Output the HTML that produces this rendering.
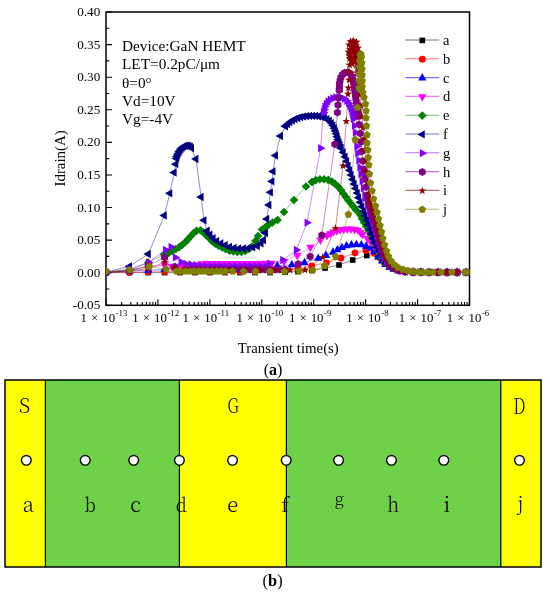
<!DOCTYPE html><html><head><meta charset="utf-8"><style>html,body{margin:0;padding:0;background:#fff;}svg{display:block;}text{font-family:"Liberation Serif","Noto Serif CJK SC",serif;}</style></head><body>
<svg width="550" height="595" viewBox="0 0 550 595">
<defs>
<g id="ma" fill="#000000" stroke="none"><rect x="-2.8" y="-2.8" width="5.6" height="5.6"/></g>
<g id="mb" fill="#ff0000" stroke="none"><circle r="3.4"/></g>
<g id="mc" fill="#0000ff" stroke="none"><polygon points="0.00,-4.90 4.15,2.45 -4.15,2.45"/></g>
<g id="md" fill="#ff00ff" stroke="none"><polygon points="0.00,4.90 4.15,-2.45 -4.15,-2.45"/></g>
<g id="me" fill="#008000" stroke="none"><polygon points="0.00,-4.30 4.30,0.00 0.00,4.30 -4.30,0.00"/></g>
<g id="mf" fill="#000080" stroke="none"><polygon points="-4.90,0.00 2.45,-4.15 2.45,4.15"/></g>
<g id="mg" fill="#8000ff" stroke="none"><polygon points="4.90,0.00 -2.45,-4.15 -2.45,4.15"/></g>
<g id="mh" fill="#800080" stroke="none"><polygon points="0.00,-4.00 3.46,-2.00 3.46,2.00 0.00,4.00 -3.46,2.00 -3.46,-2.00"/></g>
<g id="mi" fill="#900000" stroke="none"><polygon points="0.00,-4.20 1.00,-1.38 3.99,-1.30 1.62,0.53 2.47,3.40 0.00,1.70 -2.47,3.40 -1.62,0.53 -3.99,-1.30 -1.00,-1.38"/></g>
<g id="mj" fill="#808000" stroke="none"><polygon points="0.00,-4.00 3.80,-1.24 2.35,3.24 -2.35,3.24 -3.80,-1.24"/></g>
</defs>
<rect width="550" height="595" fill="#fff"/>
<path d="M106.00,12.00h6M106.00,28.29h3.3M106.00,44.59h6M106.00,60.88h3.3M106.00,77.18h6M106.00,93.47h3.3M106.00,109.77h6M106.00,126.06h3.3M106.00,142.36h6M106.00,158.65h3.3M106.00,174.94h6M106.00,191.24h3.3M106.00,207.53h6M106.00,223.83h3.3M106.00,240.12h6M106.00,256.42h3.3M106.00,272.71h6M106.00,289.01h3.3M106.00,305.30h6M106.00,305.30v-6M121.63,305.30v-3.3M130.78,305.30v-3.3M137.26,305.30v-3.3M142.30,305.30v-3.3M146.41,305.30v-3.3M149.88,305.30v-3.3M152.90,305.30v-3.3M155.55,305.30v-3.3M157.93,305.30v-6M173.56,305.30v-3.3M182.70,305.30v-3.3M189.19,305.30v-3.3M194.23,305.30v-3.3M198.34,305.30v-3.3M201.81,305.30v-3.3M204.82,305.30v-3.3M207.48,305.30v-3.3M209.86,305.30v-6M225.49,305.30v-3.3M234.63,305.30v-3.3M241.12,305.30v-3.3M246.15,305.30v-3.3M250.27,305.30v-3.3M253.74,305.30v-3.3M256.75,305.30v-3.3M259.41,305.30v-3.3M261.79,305.30v-6M277.42,305.30v-3.3M286.56,305.30v-3.3M293.05,305.30v-3.3M298.08,305.30v-3.3M302.19,305.30v-3.3M305.67,305.30v-3.3M308.68,305.30v-3.3M311.34,305.30v-3.3M313.71,305.30v-6M329.35,305.30v-3.3M338.49,305.30v-3.3M344.98,305.30v-3.3M350.01,305.30v-3.3M354.12,305.30v-3.3M357.60,305.30v-3.3M360.61,305.30v-3.3M363.27,305.30v-3.3M365.64,305.30v-6M381.27,305.30v-3.3M390.42,305.30v-3.3M396.91,305.30v-3.3M401.94,305.30v-3.3M406.05,305.30v-3.3M409.53,305.30v-3.3M412.54,305.30v-3.3M415.20,305.30v-3.3M417.57,305.30v-6M433.20,305.30v-3.3M442.35,305.30v-3.3M448.84,305.30v-3.3M453.87,305.30v-3.3M457.98,305.30v-3.3M461.46,305.30v-3.3M464.47,305.30v-3.3M467.12,305.30v-3.3M469.50,305.30v-6" stroke="#000" stroke-width="1.1" fill="none"/>
<rect x="106.0" y="12.0" width="363.5" height="293.3" fill="none" stroke="#000" stroke-width="1.5"/>
<text x="100.3" y="16.00" font-size="13.2" text-anchor="end">0.40</text>
<text x="100.3" y="48.59" font-size="13.2" text-anchor="end">0.35</text>
<text x="100.3" y="81.18" font-size="13.2" text-anchor="end">0.30</text>
<text x="100.3" y="113.77" font-size="13.2" text-anchor="end">0.25</text>
<text x="100.3" y="146.36" font-size="13.2" text-anchor="end">0.20</text>
<text x="100.3" y="178.94" font-size="13.2" text-anchor="end">0.15</text>
<text x="100.3" y="211.53" font-size="13.2" text-anchor="end">0.10</text>
<text x="100.3" y="244.12" font-size="13.2" text-anchor="end">0.05</text>
<text x="100.3" y="276.71" font-size="13.2" text-anchor="end">0.00</text>
<text x="100.3" y="309.30" font-size="13.2" text-anchor="end">-0.05</text>
<text x="80.60" y="321.9" font-size="12.8">1</text>
<text x="94.65" y="321.9" font-size="12.8" text-anchor="middle">×</text>
<text x="102.30" y="321.9" font-size="12.8">10</text>
<text x="115.70" y="315.9" font-size="8.8">-13</text>
<text x="132.30" y="321.9" font-size="12.8">1</text>
<text x="146.35" y="321.9" font-size="12.8" text-anchor="middle">×</text>
<text x="154.00" y="321.9" font-size="12.8">10</text>
<text x="167.40" y="315.9" font-size="8.8">-12</text>
<text x="182.60" y="321.9" font-size="12.8">1</text>
<text x="196.65" y="321.9" font-size="12.8" text-anchor="middle">×</text>
<text x="204.30" y="321.9" font-size="12.8">10</text>
<text x="217.70" y="315.9" font-size="8.8">-11</text>
<text x="236.40" y="321.9" font-size="12.8">1</text>
<text x="250.45" y="321.9" font-size="12.8" text-anchor="middle">×</text>
<text x="258.10" y="321.9" font-size="12.8">10</text>
<text x="271.50" y="315.9" font-size="8.8">-10</text>
<text x="289.00" y="321.9" font-size="12.8">1</text>
<text x="303.05" y="321.9" font-size="12.8" text-anchor="middle">×</text>
<text x="310.70" y="321.9" font-size="12.8">10</text>
<text x="324.10" y="315.9" font-size="8.8">-9</text>
<text x="346.20" y="321.9" font-size="12.8">1</text>
<text x="360.25" y="321.9" font-size="12.8" text-anchor="middle">×</text>
<text x="367.90" y="321.9" font-size="12.8">10</text>
<text x="381.30" y="315.9" font-size="8.8">-8</text>
<text x="398.80" y="321.9" font-size="12.8">1</text>
<text x="412.85" y="321.9" font-size="12.8" text-anchor="middle">×</text>
<text x="420.50" y="321.9" font-size="12.8">10</text>
<text x="433.90" y="315.9" font-size="8.8">-7</text>
<text x="446.80" y="321.9" font-size="12.8">1</text>
<text x="460.85" y="321.9" font-size="12.8" text-anchor="middle">×</text>
<text x="468.50" y="321.9" font-size="12.8">10</text>
<text x="481.90" y="315.9" font-size="8.8">-6</text>
<clipPath id="pc"><rect x="106.0" y="12.0" width="363.5" height="293.3"/></clipPath>
<g clip-path="url(#pc)">
<polyline points="106.00,272.60 129.50,272.60 148.30,272.60 164.60,272.60 180.00,272.60 195.00,272.60 210.00,272.60 225.00,272.60 240.00,272.60 255.00,272.60 270.00,272.60 285.00,272.20 298.00,271.60 312.00,270.50 325.00,268.00 339.00,265.00 352.70,260.00 366.80,255.50 377.50,256.50 384.00,262.00 390.00,267.00 397.00,270.00 405.00,271.60 413.00,272.00 421.00,272.20 429.00,272.30 438.00,272.30 447.00,272.30 457.00,272.30 466.00,272.30" fill="none" stroke="#000000" stroke-width="1" stroke-opacity="0.45"/>
<polyline points="106.00,272.30 129.50,272.30 148.30,271.80 164.60,271.60 180.00,271.50 195.00,271.50 210.00,271.50 225.00,271.50 240.00,271.50 255.00,271.50 270.00,270.60 285.00,269.60 298.00,268.40 311.80,265.80 326.40,262.80 341.00,258.00 355.00,253.00 366.00,250.50 374.00,253.00 380.00,258.00 385.00,263.00 391.00,267.00 398.00,270.00 405.00,271.60 413.00,272.00 421.00,272.20 429.00,272.30 438.00,272.30 447.00,272.30 457.00,272.30 466.00,272.30" fill="none" stroke="#ff0000" stroke-width="1" stroke-opacity="0.45"/>
<polyline points="106.00,272.30 129.50,271.20 148.30,270.20 164.60,269.60 175.00,267.80 185.00,267.80 195.00,267.80 205.00,267.80 215.00,267.80 225.00,267.80 235.00,267.80 245.00,267.80 255.00,267.80 265.00,267.80 277.30,265.80 291.80,264.80 304.50,262.70 318.20,258.40 326.00,255.50 333.00,252.20 337.40,249.82 341.89,247.64 346.55,245.83 351.46,245.01 356.42,244.56 361.41,244.92 366.19,246.26 370.63,248.38 374.28,251.80 378.50,257.00 382.00,261.00 385.50,264.50 389.50,267.50 394.00,269.50 400.00,271.00 405.00,271.60 413.00,272.00 421.00,272.20 429.00,272.30 438.00,272.30 447.00,272.30 457.00,272.30 466.00,272.30" fill="none" stroke="#0000ff" stroke-width="1" stroke-opacity="0.45"/>
<polyline points="106.00,272.30 129.50,270.60 148.30,267.00 164.60,265.00 172.00,266.50 176.99,266.27 181.99,266.05 186.98,265.82 191.98,265.59 196.84,264.60 201.68,263.59 206.68,263.57 211.68,263.55 216.68,263.53 221.68,263.51 226.68,263.49 231.68,263.47 236.68,263.45 241.68,263.43 246.68,263.41 251.68,263.38 256.68,263.36 261.68,263.34 266.68,263.32 271.68,263.30 284.00,261.50 297.30,255.50 310.40,247.30 320.50,240.00 327.00,235.50 330.11,233.69 333.24,231.93 336.68,230.87 340.15,229.90 343.71,229.37 347.28,229.00 350.88,229.00 354.42,229.52 357.94,230.29 360.61,232.69 362.60,234.50 367.40,238.50 370.90,242.50 374.40,246.80 377.50,251.00 380.50,255.50 383.50,259.50 386.50,263.50 390.00,266.50 395.00,269.00 400.00,270.80 405.00,271.60 413.00,272.00 421.00,272.20 429.00,272.30 438.00,272.30 447.00,272.30 457.00,272.30 466.00,272.30" fill="none" stroke="#ff00ff" stroke-width="1" stroke-opacity="0.45"/>
<polyline points="106.00,272.30 129.50,270.20 148.30,262.50 164.00,254.50 168.70,253.00 172.13,250.94 175.70,249.15 179.15,247.14 182.35,244.74 185.37,242.13 188.10,239.22 190.70,236.18 193.36,233.20 196.54,230.83 200.44,230.20 203.61,232.61 206.44,235.44 209.27,238.27 212.10,241.08 215.19,243.63 218.56,245.78 222.13,247.57 225.74,249.28 229.51,250.63 233.40,251.55 237.37,252.00 241.36,251.91 245.22,250.89 248.71,248.96 251.91,246.56 255.50,241.00 258.00,236.00 262.00,229.50 265.50,227.00 268.50,225.00 272.50,222.50 277.50,220.00 284.00,212.00 294.00,200.00 306.00,186.50 312.00,182.00 312.00,182.00 315.76,180.12 319.87,179.32 324.07,179.31 328.22,179.89 332.00,181.67 335.38,184.15 338.48,186.98 341.13,190.21 343.45,193.71 345.90,197.12 348.44,200.47 351.12,203.70 353.72,207.00 356.00,210.00 360.00,214.50 361.83,218.61 364.02,222.54 366.24,226.45 368.35,230.43 370.45,234.41 372.56,238.38 374.66,242.36 376.53,246.45 378.36,250.56 380.31,254.62 382.32,258.64 384.98,262.23 388.20,265.34 391.89,267.92 396.07,269.56 398.00,270.30 405.00,271.60 413.00,272.00 421.00,272.20 429.00,272.30 438.00,272.30 447.00,272.30 457.00,272.30 466.00,272.30" fill="none" stroke="#008000" stroke-width="1" stroke-opacity="0.45"/>
<polyline points="106.00,272.30 129.50,266.30 148.30,254.00 164.30,215.50 169.80,193.30 174.20,172.50 175.80,164.20 176.50,158.50 176.99,156.77 177.49,155.04 178.29,153.43 179.11,151.82 180.03,150.28 181.10,148.84 182.31,147.51 183.77,146.47 185.40,145.77 187.17,145.53 188.91,145.83 190.43,146.76 191.54,148.18 196.00,159.00 201.10,197.00 204.00,220.30 207.00,231.00 207.00,231.00 209.94,234.67 213.12,238.12 216.75,241.05 220.84,243.34 225.21,245.08 229.57,246.83 234.16,247.83 238.82,248.38 243.51,248.50 248.20,248.18 252.83,247.43 257.36,246.21 261.07,243.40 263.50,240.00 265.50,233.00 266.80,219.00 268.90,205.00 270.40,192.30 271.90,181.30 273.00,171.40 275.50,155.50 280.50,136.00 285.40,126.20 285.40,126.20 287.62,124.18 289.83,122.15 292.38,120.57 294.95,119.03 297.77,118.00 300.62,117.09 303.57,116.56 306.54,116.18 309.53,115.94 312.53,115.90 315.53,115.95 318.51,116.25 321.45,116.81 324.34,117.61 326.96,119.03 329.39,120.75 331.34,123.03 332.93,125.55 334.34,128.20 335.34,131.03 336.29,133.87 337.19,136.73 338.07,139.60 339.02,142.45 340.03,145.27 341.00,148.00 341.00,148.00 343.20,152.27 345.13,156.65 346.59,161.22 348.09,165.78 349.61,170.33 351.13,174.88 352.65,179.44 354.16,183.99 355.76,188.52 357.30,193.06 358.63,197.67 360.16,202.22 361.88,206.70 363.51,211.22 365.12,215.74 366.73,220.26 368.35,224.78 369.96,229.30 371.58,233.82 373.19,238.34 374.85,242.84 376.70,247.27 379.37,251.24 381.67,255.43 383.70,259.78 386.69,263.52 390.29,266.67 394.49,268.83 398.00,270.00 405.00,271.60 413.00,272.00 421.00,272.20 429.00,272.30 438.00,272.30 447.00,272.30 457.00,272.30 466.00,272.30" fill="none" stroke="#000080" stroke-width="1" stroke-opacity="0.45"/>
<polyline points="106.00,272.30 129.50,269.20 148.30,262.50 165.50,250.00 171.00,246.80 175.30,257.40 181.00,262.00 186.00,263.80 190.96,264.46 195.91,265.16 200.84,266.00 205.82,266.20 210.82,266.20 215.82,266.20 220.82,266.20 225.82,266.20 230.82,266.20 235.82,266.20 240.82,266.20 245.82,266.20 250.82,266.20 255.82,266.20 260.82,266.20 265.82,266.20 269.50,263.60 282.70,260.00 296.40,250.00 307.00,222.70 320.60,148.20 323.40,112.40 323.40,112.40 324.19,109.50 324.97,106.61 326.29,103.92 328.00,101.50 330.25,99.55 332.91,98.20 335.79,97.37 338.75,97.12 341.68,97.73 344.43,98.85 346.72,100.78 348.57,103.14 349.91,105.82 350.98,108.62 351.87,111.48 352.58,114.40 353.21,117.33 353.50,118.70 353.50,118.70 354.45,125.64 355.32,132.58 356.13,139.53 356.89,146.49 357.67,153.45 358.77,160.36 359.85,167.28 360.91,174.20 362.06,181.10 363.32,187.99 364.80,194.83 365.50,198.00 367.60,205.00 368.92,209.41 370.23,213.82 371.46,218.25 372.69,222.68 373.92,227.11 375.16,231.54 376.48,235.95 377.81,240.35 379.18,244.75 380.55,249.14 382.10,253.47 383.92,257.68 386.17,261.67 389.43,264.93 393.25,267.45 397.43,269.31 401.00,270.50 405.00,271.60 413.00,272.00 421.00,272.20 429.00,272.30 438.00,272.30 447.00,272.30 457.00,272.30 466.00,272.30" fill="none" stroke="#8000ff" stroke-width="1" stroke-opacity="0.45"/>
<polyline points="106.00,272.30 129.50,270.60 148.30,265.50 164.60,257.40 174.50,266.80 185.00,269.60 190.00,269.60 195.00,269.60 200.00,269.60 205.00,269.60 210.00,269.60 215.00,269.60 220.00,269.60 225.00,269.60 230.00,269.60 235.00,269.60 240.00,269.60 245.00,269.60 250.00,269.60 255.00,269.60 260.00,269.60 265.00,269.60 270.00,269.60 275.00,269.60 280.00,269.60 285.00,269.60 298.20,264.00 310.20,256.40 321.80,235.20 334.80,144.20 337.40,112.40 338.00,105.00 338.00,97.70 339.30,90.10 339.30,90.10 339.39,86.90 339.48,83.70 340.11,80.58 340.88,77.47 342.35,74.64 344.68,72.66 347.70,72.28 350.33,73.83 351.99,76.47 353.00,79.51 353.57,82.66 354.12,85.81 354.57,88.98 355.02,92.14 355.41,95.32 355.81,98.50 356.31,101.65 356.90,104.80 357.49,107.95 357.96,111.11 358.42,114.28 358.60,116.00 359.20,124.50 360.20,133.50 361.00,142.00 361.60,151.50 362.80,161.00 364.00,169.50 365.20,178.00 366.20,187.00 367.30,195.50 368.50,202.00 369.71,206.85 371.05,211.67 372.46,216.47 373.95,221.24 375.44,226.01 376.93,230.78 378.28,235.60 379.63,240.41 381.12,245.18 382.69,249.93 384.37,254.64 386.41,259.20 388.98,263.47 392.53,266.90 396.94,269.18 399.00,270.00 405.00,271.60 413.00,272.00 421.00,272.20 429.00,272.30 438.00,272.30 447.00,272.30 457.00,272.30 466.00,272.30" fill="none" stroke="#800080" stroke-width="1" stroke-opacity="0.45"/>
<polyline points="106.00,272.30 129.50,271.00 148.30,268.50 164.70,262.50 175.00,268.00 185.00,269.50 200.00,270.00 215.00,270.00 230.00,270.00 245.00,270.00 260.00,270.00 275.00,270.00 290.00,270.00 305.00,270.00 322.70,257.30 335.50,228.30 343.00,165.80 346.30,121.30 348.00,94.00 348.50,88.00 349.00,80.00 349.00,72.00 349.50,65.00 349.50,58.50 350.00,54.00 351.00,50.00 351.50,46.00 352.50,42.00 353.50,41.00 354.80,42.50 356.00,46.00 356.50,50.00 357.00,54.00 357.00,58.00 357.20,63.00 357.50,68.00 357.50,73.00 349.00,45.00 350.00,49.50 355.00,53.50 348.50,52.00 358.00,48.00 354.00,57.00 351.50,60.50 353.00,47.00 350.50,41.50 356.50,42.00 354.00,51.00 357.50,52.00 349.50,56.00 355.50,60.00 352.50,64.00 357.50,73.00 358.69,83.93 359.79,94.88 360.88,105.83 361.98,116.77 363.07,127.72 364.17,138.66 365.03,149.63 365.67,160.61 366.53,171.57 367.51,182.53 368.76,193.45 370.00,200.00 370.00,200.00 371.21,204.85 372.55,209.67 373.92,214.48 375.30,219.28 376.53,224.13 377.74,228.98 378.96,233.83 380.26,238.66 381.63,243.46 383.01,248.27 384.51,253.04 386.34,257.68 388.77,262.03 392.03,265.77 396.20,268.48 400.00,270.00 405.00,271.60 413.00,272.00 421.00,272.20 429.00,272.30 438.00,272.30 447.00,272.30 457.00,272.30 466.00,272.30" fill="none" stroke="#900000" stroke-width="1" stroke-opacity="0.45"/>
<polyline points="106.00,271.60 129.80,270.00 149.30,266.60 166.20,269.20 176.50,271.20 180.95,271.20 185.41,271.20 189.86,271.20 194.32,271.20 198.77,271.20 203.23,271.20 207.68,271.20 212.14,271.20 216.59,271.20 221.05,271.20 225.50,271.20 232.70,271.30 243.60,271.40 255.50,271.60 270.00,271.60 284.50,271.40 299.10,271.10 312.70,270.30 324.50,265.80 335.70,256.80 348.40,214.40 355.20,139.70 357.50,107.50 359.00,88.00 359.10,81.00 359.30,74.00 359.60,67.00 359.90,61.00 360.30,56.00 360.80,54.00 361.40,57.00 361.80,63.00 362.00,69.00 362.10,75.00 362.20,81.00 362.20,87.00 362.80,92.50 364.00,97.50 365.50,104.00 366.00,111.00 366.00,118.00 366.50,126.00 367.00,135.00 367.00,143.00 367.70,150.00 368.30,157.50 368.80,165.00 369.40,174.00 370.50,183.00 372.00,191.00 373.50,199.00 375.50,206.00 377.00,212.50 378.50,219.00 380.00,225.50 381.50,232.00 382.80,238.50 384.50,245.00 386.50,251.00 388.50,256.50 391.00,261.00 394.00,264.50 398.00,267.50 403.00,269.50 408.00,270.80 413.00,271.50 418.00,272.00 423.00,272.20 428.00,272.30 433.00,272.30 441.00,272.30 451.80,272.30 465.00,272.30 469.50,272.30" fill="none" stroke="#808000" stroke-width="1" stroke-opacity="0.45"/>
<use href="#ma" x="106.00" y="272.60"/><use href="#ma" x="129.50" y="272.60"/><use href="#ma" x="148.30" y="272.60"/><use href="#ma" x="164.60" y="272.60"/><use href="#ma" x="180.00" y="272.60"/><use href="#ma" x="195.00" y="272.60"/><use href="#ma" x="210.00" y="272.60"/><use href="#ma" x="225.00" y="272.60"/><use href="#ma" x="240.00" y="272.60"/><use href="#ma" x="255.00" y="272.60"/><use href="#ma" x="270.00" y="272.60"/><use href="#ma" x="285.00" y="272.20"/><use href="#ma" x="298.00" y="271.60"/><use href="#ma" x="312.00" y="270.50"/><use href="#ma" x="325.00" y="268.00"/><use href="#ma" x="339.00" y="265.00"/><use href="#ma" x="352.70" y="260.00"/><use href="#ma" x="366.80" y="255.50"/><use href="#ma" x="377.50" y="256.50"/><use href="#ma" x="384.00" y="262.00"/><use href="#ma" x="390.00" y="267.00"/><use href="#ma" x="397.00" y="270.00"/><use href="#ma" x="405.00" y="271.60"/><use href="#ma" x="413.00" y="272.00"/><use href="#ma" x="421.00" y="272.20"/><use href="#ma" x="429.00" y="272.30"/><use href="#ma" x="438.00" y="272.30"/><use href="#ma" x="447.00" y="272.30"/><use href="#ma" x="457.00" y="272.30"/><use href="#ma" x="466.00" y="272.30"/>
<use href="#mb" x="106.00" y="272.30"/><use href="#mb" x="129.50" y="272.30"/><use href="#mb" x="148.30" y="271.80"/><use href="#mb" x="164.60" y="271.60"/><use href="#mb" x="180.00" y="271.50"/><use href="#mb" x="195.00" y="271.50"/><use href="#mb" x="210.00" y="271.50"/><use href="#mb" x="225.00" y="271.50"/><use href="#mb" x="240.00" y="271.50"/><use href="#mb" x="255.00" y="271.50"/><use href="#mb" x="270.00" y="270.60"/><use href="#mb" x="285.00" y="269.60"/><use href="#mb" x="298.00" y="268.40"/><use href="#mb" x="311.80" y="265.80"/><use href="#mb" x="326.40" y="262.80"/><use href="#mb" x="341.00" y="258.00"/><use href="#mb" x="355.00" y="253.00"/><use href="#mb" x="366.00" y="250.50"/><use href="#mb" x="374.00" y="253.00"/><use href="#mb" x="380.00" y="258.00"/><use href="#mb" x="385.00" y="263.00"/><use href="#mb" x="391.00" y="267.00"/><use href="#mb" x="398.00" y="270.00"/><use href="#mb" x="405.00" y="271.60"/><use href="#mb" x="413.00" y="272.00"/><use href="#mb" x="421.00" y="272.20"/><use href="#mb" x="429.00" y="272.30"/><use href="#mb" x="438.00" y="272.30"/><use href="#mb" x="447.00" y="272.30"/><use href="#mb" x="457.00" y="272.30"/><use href="#mb" x="466.00" y="272.30"/>
<use href="#mc" x="106.00" y="272.30"/><use href="#mc" x="129.50" y="271.20"/><use href="#mc" x="148.30" y="270.20"/><use href="#mc" x="164.60" y="269.60"/><use href="#mc" x="175.00" y="267.80"/><use href="#mc" x="185.00" y="267.80"/><use href="#mc" x="195.00" y="267.80"/><use href="#mc" x="205.00" y="267.80"/><use href="#mc" x="215.00" y="267.80"/><use href="#mc" x="225.00" y="267.80"/><use href="#mc" x="235.00" y="267.80"/><use href="#mc" x="245.00" y="267.80"/><use href="#mc" x="255.00" y="267.80"/><use href="#mc" x="265.00" y="267.80"/><use href="#mc" x="277.30" y="265.80"/><use href="#mc" x="291.80" y="264.80"/><use href="#mc" x="304.50" y="262.70"/><use href="#mc" x="318.20" y="258.40"/><use href="#mc" x="326.00" y="255.50"/><use href="#mc" x="333.00" y="252.20"/><use href="#mc" x="337.40" y="249.82"/><use href="#mc" x="341.89" y="247.64"/><use href="#mc" x="346.55" y="245.83"/><use href="#mc" x="351.46" y="245.01"/><use href="#mc" x="356.42" y="244.56"/><use href="#mc" x="361.41" y="244.92"/><use href="#mc" x="366.19" y="246.26"/><use href="#mc" x="370.63" y="248.38"/><use href="#mc" x="374.28" y="251.80"/><use href="#mc" x="378.50" y="257.00"/><use href="#mc" x="382.00" y="261.00"/><use href="#mc" x="385.50" y="264.50"/><use href="#mc" x="389.50" y="267.50"/><use href="#mc" x="394.00" y="269.50"/><use href="#mc" x="400.00" y="271.00"/><use href="#mc" x="405.00" y="271.60"/><use href="#mc" x="413.00" y="272.00"/><use href="#mc" x="421.00" y="272.20"/><use href="#mc" x="429.00" y="272.30"/><use href="#mc" x="438.00" y="272.30"/><use href="#mc" x="447.00" y="272.30"/><use href="#mc" x="457.00" y="272.30"/><use href="#mc" x="466.00" y="272.30"/>
<use href="#md" x="106.00" y="272.30"/><use href="#md" x="129.50" y="270.60"/><use href="#md" x="148.30" y="267.00"/><use href="#md" x="164.60" y="265.00"/><use href="#md" x="172.00" y="266.50"/><use href="#md" x="176.99" y="266.27"/><use href="#md" x="181.99" y="266.05"/><use href="#md" x="186.98" y="265.82"/><use href="#md" x="191.98" y="265.59"/><use href="#md" x="196.84" y="264.60"/><use href="#md" x="201.68" y="263.59"/><use href="#md" x="206.68" y="263.57"/><use href="#md" x="211.68" y="263.55"/><use href="#md" x="216.68" y="263.53"/><use href="#md" x="221.68" y="263.51"/><use href="#md" x="226.68" y="263.49"/><use href="#md" x="231.68" y="263.47"/><use href="#md" x="236.68" y="263.45"/><use href="#md" x="241.68" y="263.43"/><use href="#md" x="246.68" y="263.41"/><use href="#md" x="251.68" y="263.38"/><use href="#md" x="256.68" y="263.36"/><use href="#md" x="261.68" y="263.34"/><use href="#md" x="266.68" y="263.32"/><use href="#md" x="271.68" y="263.30"/><use href="#md" x="284.00" y="261.50"/><use href="#md" x="297.30" y="255.50"/><use href="#md" x="310.40" y="247.30"/><use href="#md" x="320.50" y="240.00"/><use href="#md" x="327.00" y="235.50"/><use href="#md" x="330.11" y="233.69"/><use href="#md" x="333.24" y="231.93"/><use href="#md" x="336.68" y="230.87"/><use href="#md" x="340.15" y="229.90"/><use href="#md" x="343.71" y="229.37"/><use href="#md" x="347.28" y="229.00"/><use href="#md" x="350.88" y="229.00"/><use href="#md" x="354.42" y="229.52"/><use href="#md" x="357.94" y="230.29"/><use href="#md" x="360.61" y="232.69"/><use href="#md" x="362.60" y="234.50"/><use href="#md" x="367.40" y="238.50"/><use href="#md" x="370.90" y="242.50"/><use href="#md" x="374.40" y="246.80"/><use href="#md" x="377.50" y="251.00"/><use href="#md" x="380.50" y="255.50"/><use href="#md" x="383.50" y="259.50"/><use href="#md" x="386.50" y="263.50"/><use href="#md" x="390.00" y="266.50"/><use href="#md" x="395.00" y="269.00"/><use href="#md" x="400.00" y="270.80"/><use href="#md" x="405.00" y="271.60"/><use href="#md" x="413.00" y="272.00"/><use href="#md" x="421.00" y="272.20"/><use href="#md" x="429.00" y="272.30"/><use href="#md" x="438.00" y="272.30"/><use href="#md" x="447.00" y="272.30"/><use href="#md" x="457.00" y="272.30"/><use href="#md" x="466.00" y="272.30"/>
<use href="#me" x="106.00" y="272.30"/><use href="#me" x="129.50" y="270.20"/><use href="#me" x="148.30" y="262.50"/><use href="#me" x="164.00" y="254.50"/><use href="#me" x="168.70" y="253.00"/><use href="#me" x="172.13" y="250.94"/><use href="#me" x="175.70" y="249.15"/><use href="#me" x="179.15" y="247.14"/><use href="#me" x="182.35" y="244.74"/><use href="#me" x="185.37" y="242.13"/><use href="#me" x="188.10" y="239.22"/><use href="#me" x="190.70" y="236.18"/><use href="#me" x="193.36" y="233.20"/><use href="#me" x="196.54" y="230.83"/><use href="#me" x="200.44" y="230.20"/><use href="#me" x="203.61" y="232.61"/><use href="#me" x="206.44" y="235.44"/><use href="#me" x="209.27" y="238.27"/><use href="#me" x="212.10" y="241.08"/><use href="#me" x="215.19" y="243.63"/><use href="#me" x="218.56" y="245.78"/><use href="#me" x="222.13" y="247.57"/><use href="#me" x="225.74" y="249.28"/><use href="#me" x="229.51" y="250.63"/><use href="#me" x="233.40" y="251.55"/><use href="#me" x="237.37" y="252.00"/><use href="#me" x="241.36" y="251.91"/><use href="#me" x="245.22" y="250.89"/><use href="#me" x="248.71" y="248.96"/><use href="#me" x="251.91" y="246.56"/><use href="#me" x="255.50" y="241.00"/><use href="#me" x="258.00" y="236.00"/><use href="#me" x="262.00" y="229.50"/><use href="#me" x="265.50" y="227.00"/><use href="#me" x="268.50" y="225.00"/><use href="#me" x="272.50" y="222.50"/><use href="#me" x="277.50" y="220.00"/><use href="#me" x="284.00" y="212.00"/><use href="#me" x="294.00" y="200.00"/><use href="#me" x="306.00" y="186.50"/><use href="#me" x="312.00" y="182.00"/><use href="#me" x="312.00" y="182.00"/><use href="#me" x="315.76" y="180.12"/><use href="#me" x="319.87" y="179.32"/><use href="#me" x="324.07" y="179.31"/><use href="#me" x="328.22" y="179.89"/><use href="#me" x="332.00" y="181.67"/><use href="#me" x="335.38" y="184.15"/><use href="#me" x="338.48" y="186.98"/><use href="#me" x="341.13" y="190.21"/><use href="#me" x="343.45" y="193.71"/><use href="#me" x="345.90" y="197.12"/><use href="#me" x="348.44" y="200.47"/><use href="#me" x="351.12" y="203.70"/><use href="#me" x="353.72" y="207.00"/><use href="#me" x="356.00" y="210.00"/><use href="#me" x="360.00" y="214.50"/><use href="#me" x="361.83" y="218.61"/><use href="#me" x="364.02" y="222.54"/><use href="#me" x="366.24" y="226.45"/><use href="#me" x="368.35" y="230.43"/><use href="#me" x="370.45" y="234.41"/><use href="#me" x="372.56" y="238.38"/><use href="#me" x="374.66" y="242.36"/><use href="#me" x="376.53" y="246.45"/><use href="#me" x="378.36" y="250.56"/><use href="#me" x="380.31" y="254.62"/><use href="#me" x="382.32" y="258.64"/><use href="#me" x="384.98" y="262.23"/><use href="#me" x="388.20" y="265.34"/><use href="#me" x="391.89" y="267.92"/><use href="#me" x="396.07" y="269.56"/><use href="#me" x="398.00" y="270.30"/><use href="#me" x="405.00" y="271.60"/><use href="#me" x="413.00" y="272.00"/><use href="#me" x="421.00" y="272.20"/><use href="#me" x="429.00" y="272.30"/><use href="#me" x="438.00" y="272.30"/><use href="#me" x="447.00" y="272.30"/><use href="#me" x="457.00" y="272.30"/><use href="#me" x="466.00" y="272.30"/>
<use href="#mf" x="106.00" y="272.30"/><use href="#mf" x="129.50" y="266.30"/><use href="#mf" x="148.30" y="254.00"/><use href="#mf" x="164.30" y="215.50"/><use href="#mf" x="169.80" y="193.30"/><use href="#mf" x="174.20" y="172.50"/><use href="#mf" x="175.80" y="164.20"/><use href="#mf" x="176.50" y="158.50"/><use href="#mf" x="176.99" y="156.77"/><use href="#mf" x="177.49" y="155.04"/><use href="#mf" x="178.29" y="153.43"/><use href="#mf" x="179.11" y="151.82"/><use href="#mf" x="180.03" y="150.28"/><use href="#mf" x="181.10" y="148.84"/><use href="#mf" x="182.31" y="147.51"/><use href="#mf" x="183.77" y="146.47"/><use href="#mf" x="185.40" y="145.77"/><use href="#mf" x="187.17" y="145.53"/><use href="#mf" x="188.91" y="145.83"/><use href="#mf" x="190.43" y="146.76"/><use href="#mf" x="191.54" y="148.18"/><use href="#mf" x="196.00" y="159.00"/><use href="#mf" x="201.10" y="197.00"/><use href="#mf" x="204.00" y="220.30"/><use href="#mf" x="207.00" y="231.00"/><use href="#mf" x="207.00" y="231.00"/><use href="#mf" x="209.94" y="234.67"/><use href="#mf" x="213.12" y="238.12"/><use href="#mf" x="216.75" y="241.05"/><use href="#mf" x="220.84" y="243.34"/><use href="#mf" x="225.21" y="245.08"/><use href="#mf" x="229.57" y="246.83"/><use href="#mf" x="234.16" y="247.83"/><use href="#mf" x="238.82" y="248.38"/><use href="#mf" x="243.51" y="248.50"/><use href="#mf" x="248.20" y="248.18"/><use href="#mf" x="252.83" y="247.43"/><use href="#mf" x="257.36" y="246.21"/><use href="#mf" x="261.07" y="243.40"/><use href="#mf" x="263.50" y="240.00"/><use href="#mf" x="265.50" y="233.00"/><use href="#mf" x="266.80" y="219.00"/><use href="#mf" x="268.90" y="205.00"/><use href="#mf" x="270.40" y="192.30"/><use href="#mf" x="271.90" y="181.30"/><use href="#mf" x="273.00" y="171.40"/><use href="#mf" x="275.50" y="155.50"/><use href="#mf" x="280.50" y="136.00"/><use href="#mf" x="285.40" y="126.20"/><use href="#mf" x="285.40" y="126.20"/><use href="#mf" x="287.62" y="124.18"/><use href="#mf" x="289.83" y="122.15"/><use href="#mf" x="292.38" y="120.57"/><use href="#mf" x="294.95" y="119.03"/><use href="#mf" x="297.77" y="118.00"/><use href="#mf" x="300.62" y="117.09"/><use href="#mf" x="303.57" y="116.56"/><use href="#mf" x="306.54" y="116.18"/><use href="#mf" x="309.53" y="115.94"/><use href="#mf" x="312.53" y="115.90"/><use href="#mf" x="315.53" y="115.95"/><use href="#mf" x="318.51" y="116.25"/><use href="#mf" x="321.45" y="116.81"/><use href="#mf" x="324.34" y="117.61"/><use href="#mf" x="326.96" y="119.03"/><use href="#mf" x="329.39" y="120.75"/><use href="#mf" x="331.34" y="123.03"/><use href="#mf" x="332.93" y="125.55"/><use href="#mf" x="334.34" y="128.20"/><use href="#mf" x="335.34" y="131.03"/><use href="#mf" x="336.29" y="133.87"/><use href="#mf" x="337.19" y="136.73"/><use href="#mf" x="338.07" y="139.60"/><use href="#mf" x="339.02" y="142.45"/><use href="#mf" x="340.03" y="145.27"/><use href="#mf" x="341.00" y="148.00"/><use href="#mf" x="341.00" y="148.00"/><use href="#mf" x="343.20" y="152.27"/><use href="#mf" x="345.13" y="156.65"/><use href="#mf" x="346.59" y="161.22"/><use href="#mf" x="348.09" y="165.78"/><use href="#mf" x="349.61" y="170.33"/><use href="#mf" x="351.13" y="174.88"/><use href="#mf" x="352.65" y="179.44"/><use href="#mf" x="354.16" y="183.99"/><use href="#mf" x="355.76" y="188.52"/><use href="#mf" x="357.30" y="193.06"/><use href="#mf" x="358.63" y="197.67"/><use href="#mf" x="360.16" y="202.22"/><use href="#mf" x="361.88" y="206.70"/><use href="#mf" x="363.51" y="211.22"/><use href="#mf" x="365.12" y="215.74"/><use href="#mf" x="366.73" y="220.26"/><use href="#mf" x="368.35" y="224.78"/><use href="#mf" x="369.96" y="229.30"/><use href="#mf" x="371.58" y="233.82"/><use href="#mf" x="373.19" y="238.34"/><use href="#mf" x="374.85" y="242.84"/><use href="#mf" x="376.70" y="247.27"/><use href="#mf" x="379.37" y="251.24"/><use href="#mf" x="381.67" y="255.43"/><use href="#mf" x="383.70" y="259.78"/><use href="#mf" x="386.69" y="263.52"/><use href="#mf" x="390.29" y="266.67"/><use href="#mf" x="394.49" y="268.83"/><use href="#mf" x="398.00" y="270.00"/><use href="#mf" x="405.00" y="271.60"/><use href="#mf" x="413.00" y="272.00"/><use href="#mf" x="421.00" y="272.20"/><use href="#mf" x="429.00" y="272.30"/><use href="#mf" x="438.00" y="272.30"/><use href="#mf" x="447.00" y="272.30"/><use href="#mf" x="457.00" y="272.30"/><use href="#mf" x="466.00" y="272.30"/>
<use href="#mg" x="106.00" y="272.30"/><use href="#mg" x="129.50" y="269.20"/><use href="#mg" x="148.30" y="262.50"/><use href="#mg" x="165.50" y="250.00"/><use href="#mg" x="171.00" y="246.80"/><use href="#mg" x="175.30" y="257.40"/><use href="#mg" x="181.00" y="262.00"/><use href="#mg" x="186.00" y="263.80"/><use href="#mg" x="190.96" y="264.46"/><use href="#mg" x="195.91" y="265.16"/><use href="#mg" x="200.84" y="266.00"/><use href="#mg" x="205.82" y="266.20"/><use href="#mg" x="210.82" y="266.20"/><use href="#mg" x="215.82" y="266.20"/><use href="#mg" x="220.82" y="266.20"/><use href="#mg" x="225.82" y="266.20"/><use href="#mg" x="230.82" y="266.20"/><use href="#mg" x="235.82" y="266.20"/><use href="#mg" x="240.82" y="266.20"/><use href="#mg" x="245.82" y="266.20"/><use href="#mg" x="250.82" y="266.20"/><use href="#mg" x="255.82" y="266.20"/><use href="#mg" x="260.82" y="266.20"/><use href="#mg" x="265.82" y="266.20"/><use href="#mg" x="269.50" y="263.60"/><use href="#mg" x="282.70" y="260.00"/><use href="#mg" x="296.40" y="250.00"/><use href="#mg" x="307.00" y="222.70"/><use href="#mg" x="320.60" y="148.20"/><use href="#mg" x="323.40" y="112.40"/><use href="#mg" x="323.40" y="112.40"/><use href="#mg" x="324.19" y="109.50"/><use href="#mg" x="324.97" y="106.61"/><use href="#mg" x="326.29" y="103.92"/><use href="#mg" x="328.00" y="101.50"/><use href="#mg" x="330.25" y="99.55"/><use href="#mg" x="332.91" y="98.20"/><use href="#mg" x="335.79" y="97.37"/><use href="#mg" x="338.75" y="97.12"/><use href="#mg" x="341.68" y="97.73"/><use href="#mg" x="344.43" y="98.85"/><use href="#mg" x="346.72" y="100.78"/><use href="#mg" x="348.57" y="103.14"/><use href="#mg" x="349.91" y="105.82"/><use href="#mg" x="350.98" y="108.62"/><use href="#mg" x="351.87" y="111.48"/><use href="#mg" x="352.58" y="114.40"/><use href="#mg" x="353.21" y="117.33"/><use href="#mg" x="353.50" y="118.70"/><use href="#mg" x="353.50" y="118.70"/><use href="#mg" x="354.45" y="125.64"/><use href="#mg" x="355.32" y="132.58"/><use href="#mg" x="356.13" y="139.53"/><use href="#mg" x="356.89" y="146.49"/><use href="#mg" x="357.67" y="153.45"/><use href="#mg" x="358.77" y="160.36"/><use href="#mg" x="359.85" y="167.28"/><use href="#mg" x="360.91" y="174.20"/><use href="#mg" x="362.06" y="181.10"/><use href="#mg" x="363.32" y="187.99"/><use href="#mg" x="364.80" y="194.83"/><use href="#mg" x="365.50" y="198.00"/><use href="#mg" x="367.60" y="205.00"/><use href="#mg" x="368.92" y="209.41"/><use href="#mg" x="370.23" y="213.82"/><use href="#mg" x="371.46" y="218.25"/><use href="#mg" x="372.69" y="222.68"/><use href="#mg" x="373.92" y="227.11"/><use href="#mg" x="375.16" y="231.54"/><use href="#mg" x="376.48" y="235.95"/><use href="#mg" x="377.81" y="240.35"/><use href="#mg" x="379.18" y="244.75"/><use href="#mg" x="380.55" y="249.14"/><use href="#mg" x="382.10" y="253.47"/><use href="#mg" x="383.92" y="257.68"/><use href="#mg" x="386.17" y="261.67"/><use href="#mg" x="389.43" y="264.93"/><use href="#mg" x="393.25" y="267.45"/><use href="#mg" x="397.43" y="269.31"/><use href="#mg" x="401.00" y="270.50"/><use href="#mg" x="405.00" y="271.60"/><use href="#mg" x="413.00" y="272.00"/><use href="#mg" x="421.00" y="272.20"/><use href="#mg" x="429.00" y="272.30"/><use href="#mg" x="438.00" y="272.30"/><use href="#mg" x="447.00" y="272.30"/><use href="#mg" x="457.00" y="272.30"/><use href="#mg" x="466.00" y="272.30"/>
<use href="#mh" x="106.00" y="272.30"/><use href="#mh" x="129.50" y="270.60"/><use href="#mh" x="148.30" y="265.50"/><use href="#mh" x="164.60" y="257.40"/><use href="#mh" x="174.50" y="266.80"/><use href="#mh" x="185.00" y="269.60"/><use href="#mh" x="190.00" y="269.60"/><use href="#mh" x="195.00" y="269.60"/><use href="#mh" x="200.00" y="269.60"/><use href="#mh" x="205.00" y="269.60"/><use href="#mh" x="210.00" y="269.60"/><use href="#mh" x="215.00" y="269.60"/><use href="#mh" x="220.00" y="269.60"/><use href="#mh" x="225.00" y="269.60"/><use href="#mh" x="230.00" y="269.60"/><use href="#mh" x="235.00" y="269.60"/><use href="#mh" x="240.00" y="269.60"/><use href="#mh" x="245.00" y="269.60"/><use href="#mh" x="250.00" y="269.60"/><use href="#mh" x="255.00" y="269.60"/><use href="#mh" x="260.00" y="269.60"/><use href="#mh" x="265.00" y="269.60"/><use href="#mh" x="270.00" y="269.60"/><use href="#mh" x="275.00" y="269.60"/><use href="#mh" x="280.00" y="269.60"/><use href="#mh" x="285.00" y="269.60"/><use href="#mh" x="298.20" y="264.00"/><use href="#mh" x="310.20" y="256.40"/><use href="#mh" x="321.80" y="235.20"/><use href="#mh" x="334.80" y="144.20"/><use href="#mh" x="337.40" y="112.40"/><use href="#mh" x="338.00" y="105.00"/><use href="#mh" x="338.00" y="97.70"/><use href="#mh" x="339.30" y="90.10"/><use href="#mh" x="339.30" y="90.10"/><use href="#mh" x="339.39" y="86.90"/><use href="#mh" x="339.48" y="83.70"/><use href="#mh" x="340.11" y="80.58"/><use href="#mh" x="340.88" y="77.47"/><use href="#mh" x="342.35" y="74.64"/><use href="#mh" x="344.68" y="72.66"/><use href="#mh" x="347.70" y="72.28"/><use href="#mh" x="350.33" y="73.83"/><use href="#mh" x="351.99" y="76.47"/><use href="#mh" x="353.00" y="79.51"/><use href="#mh" x="353.57" y="82.66"/><use href="#mh" x="354.12" y="85.81"/><use href="#mh" x="354.57" y="88.98"/><use href="#mh" x="355.02" y="92.14"/><use href="#mh" x="355.41" y="95.32"/><use href="#mh" x="355.81" y="98.50"/><use href="#mh" x="356.31" y="101.65"/><use href="#mh" x="356.90" y="104.80"/><use href="#mh" x="357.49" y="107.95"/><use href="#mh" x="357.96" y="111.11"/><use href="#mh" x="358.42" y="114.28"/><use href="#mh" x="358.60" y="116.00"/><use href="#mh" x="359.20" y="124.50"/><use href="#mh" x="360.20" y="133.50"/><use href="#mh" x="361.00" y="142.00"/><use href="#mh" x="361.60" y="151.50"/><use href="#mh" x="362.80" y="161.00"/><use href="#mh" x="364.00" y="169.50"/><use href="#mh" x="365.20" y="178.00"/><use href="#mh" x="366.20" y="187.00"/><use href="#mh" x="367.30" y="195.50"/><use href="#mh" x="368.50" y="202.00"/><use href="#mh" x="369.71" y="206.85"/><use href="#mh" x="371.05" y="211.67"/><use href="#mh" x="372.46" y="216.47"/><use href="#mh" x="373.95" y="221.24"/><use href="#mh" x="375.44" y="226.01"/><use href="#mh" x="376.93" y="230.78"/><use href="#mh" x="378.28" y="235.60"/><use href="#mh" x="379.63" y="240.41"/><use href="#mh" x="381.12" y="245.18"/><use href="#mh" x="382.69" y="249.93"/><use href="#mh" x="384.37" y="254.64"/><use href="#mh" x="386.41" y="259.20"/><use href="#mh" x="388.98" y="263.47"/><use href="#mh" x="392.53" y="266.90"/><use href="#mh" x="396.94" y="269.18"/><use href="#mh" x="399.00" y="270.00"/><use href="#mh" x="405.00" y="271.60"/><use href="#mh" x="413.00" y="272.00"/><use href="#mh" x="421.00" y="272.20"/><use href="#mh" x="429.00" y="272.30"/><use href="#mh" x="438.00" y="272.30"/><use href="#mh" x="447.00" y="272.30"/><use href="#mh" x="457.00" y="272.30"/><use href="#mh" x="466.00" y="272.30"/>
<use href="#mi" x="106.00" y="272.30"/><use href="#mi" x="129.50" y="271.00"/><use href="#mi" x="148.30" y="268.50"/><use href="#mi" x="164.70" y="262.50"/><use href="#mi" x="175.00" y="268.00"/><use href="#mi" x="185.00" y="269.50"/><use href="#mi" x="200.00" y="270.00"/><use href="#mi" x="215.00" y="270.00"/><use href="#mi" x="230.00" y="270.00"/><use href="#mi" x="245.00" y="270.00"/><use href="#mi" x="260.00" y="270.00"/><use href="#mi" x="275.00" y="270.00"/><use href="#mi" x="290.00" y="270.00"/><use href="#mi" x="305.00" y="270.00"/><use href="#mi" x="322.70" y="257.30"/><use href="#mi" x="335.50" y="228.30"/><use href="#mi" x="343.00" y="165.80"/><use href="#mi" x="346.30" y="121.30"/><use href="#mi" x="348.00" y="94.00"/><use href="#mi" x="348.50" y="88.00"/><use href="#mi" x="349.00" y="80.00"/><use href="#mi" x="349.00" y="72.00"/><use href="#mi" x="349.50" y="65.00"/><use href="#mi" x="349.50" y="58.50"/><use href="#mi" x="350.00" y="54.00"/><use href="#mi" x="351.00" y="50.00"/><use href="#mi" x="351.50" y="46.00"/><use href="#mi" x="352.50" y="42.00"/><use href="#mi" x="353.50" y="41.00"/><use href="#mi" x="354.80" y="42.50"/><use href="#mi" x="356.00" y="46.00"/><use href="#mi" x="356.50" y="50.00"/><use href="#mi" x="357.00" y="54.00"/><use href="#mi" x="357.00" y="58.00"/><use href="#mi" x="357.20" y="63.00"/><use href="#mi" x="357.50" y="68.00"/><use href="#mi" x="357.50" y="73.00"/><use href="#mi" x="349.00" y="45.00"/><use href="#mi" x="350.00" y="49.50"/><use href="#mi" x="355.00" y="53.50"/><use href="#mi" x="348.50" y="52.00"/><use href="#mi" x="358.00" y="48.00"/><use href="#mi" x="354.00" y="57.00"/><use href="#mi" x="351.50" y="60.50"/><use href="#mi" x="353.00" y="47.00"/><use href="#mi" x="350.50" y="41.50"/><use href="#mi" x="356.50" y="42.00"/><use href="#mi" x="354.00" y="51.00"/><use href="#mi" x="357.50" y="52.00"/><use href="#mi" x="349.50" y="56.00"/><use href="#mi" x="355.50" y="60.00"/><use href="#mi" x="352.50" y="64.00"/><use href="#mi" x="357.50" y="73.00"/><use href="#mi" x="358.69" y="83.93"/><use href="#mi" x="359.79" y="94.88"/><use href="#mi" x="360.88" y="105.83"/><use href="#mi" x="361.98" y="116.77"/><use href="#mi" x="363.07" y="127.72"/><use href="#mi" x="364.17" y="138.66"/><use href="#mi" x="365.03" y="149.63"/><use href="#mi" x="365.67" y="160.61"/><use href="#mi" x="366.53" y="171.57"/><use href="#mi" x="367.51" y="182.53"/><use href="#mi" x="368.76" y="193.45"/><use href="#mi" x="370.00" y="200.00"/><use href="#mi" x="370.00" y="200.00"/><use href="#mi" x="371.21" y="204.85"/><use href="#mi" x="372.55" y="209.67"/><use href="#mi" x="373.92" y="214.48"/><use href="#mi" x="375.30" y="219.28"/><use href="#mi" x="376.53" y="224.13"/><use href="#mi" x="377.74" y="228.98"/><use href="#mi" x="378.96" y="233.83"/><use href="#mi" x="380.26" y="238.66"/><use href="#mi" x="381.63" y="243.46"/><use href="#mi" x="383.01" y="248.27"/><use href="#mi" x="384.51" y="253.04"/><use href="#mi" x="386.34" y="257.68"/><use href="#mi" x="388.77" y="262.03"/><use href="#mi" x="392.03" y="265.77"/><use href="#mi" x="396.20" y="268.48"/><use href="#mi" x="400.00" y="270.00"/><use href="#mi" x="405.00" y="271.60"/><use href="#mi" x="413.00" y="272.00"/><use href="#mi" x="421.00" y="272.20"/><use href="#mi" x="429.00" y="272.30"/><use href="#mi" x="438.00" y="272.30"/><use href="#mi" x="447.00" y="272.30"/><use href="#mi" x="457.00" y="272.30"/><use href="#mi" x="466.00" y="272.30"/>
<use href="#mj" x="106.00" y="271.60"/><use href="#mj" x="129.80" y="270.00"/><use href="#mj" x="149.30" y="266.60"/><use href="#mj" x="166.20" y="269.20"/><use href="#mj" x="176.50" y="271.20"/><use href="#mj" x="180.95" y="271.20"/><use href="#mj" x="185.41" y="271.20"/><use href="#mj" x="189.86" y="271.20"/><use href="#mj" x="194.32" y="271.20"/><use href="#mj" x="198.77" y="271.20"/><use href="#mj" x="203.23" y="271.20"/><use href="#mj" x="207.68" y="271.20"/><use href="#mj" x="212.14" y="271.20"/><use href="#mj" x="216.59" y="271.20"/><use href="#mj" x="221.05" y="271.20"/><use href="#mj" x="225.50" y="271.20"/><use href="#mj" x="232.70" y="271.30"/><use href="#mj" x="243.60" y="271.40"/><use href="#mj" x="255.50" y="271.60"/><use href="#mj" x="270.00" y="271.60"/><use href="#mj" x="284.50" y="271.40"/><use href="#mj" x="299.10" y="271.10"/><use href="#mj" x="312.70" y="270.30"/><use href="#mj" x="324.50" y="265.80"/><use href="#mj" x="335.70" y="256.80"/><use href="#mj" x="348.40" y="214.40"/><use href="#mj" x="355.20" y="139.70"/><use href="#mj" x="357.50" y="107.50"/><use href="#mj" x="359.00" y="88.00"/><use href="#mj" x="359.10" y="81.00"/><use href="#mj" x="359.30" y="74.00"/><use href="#mj" x="359.60" y="67.00"/><use href="#mj" x="359.90" y="61.00"/><use href="#mj" x="360.30" y="56.00"/><use href="#mj" x="360.80" y="54.00"/><use href="#mj" x="361.40" y="57.00"/><use href="#mj" x="361.80" y="63.00"/><use href="#mj" x="362.00" y="69.00"/><use href="#mj" x="362.10" y="75.00"/><use href="#mj" x="362.20" y="81.00"/><use href="#mj" x="362.20" y="87.00"/><use href="#mj" x="362.80" y="92.50"/><use href="#mj" x="364.00" y="97.50"/><use href="#mj" x="365.50" y="104.00"/><use href="#mj" x="366.00" y="111.00"/><use href="#mj" x="366.00" y="118.00"/><use href="#mj" x="366.50" y="126.00"/><use href="#mj" x="367.00" y="135.00"/><use href="#mj" x="367.00" y="143.00"/><use href="#mj" x="367.70" y="150.00"/><use href="#mj" x="368.30" y="157.50"/><use href="#mj" x="368.80" y="165.00"/><use href="#mj" x="369.40" y="174.00"/><use href="#mj" x="370.50" y="183.00"/><use href="#mj" x="372.00" y="191.00"/><use href="#mj" x="373.50" y="199.00"/><use href="#mj" x="375.50" y="206.00"/><use href="#mj" x="377.00" y="212.50"/><use href="#mj" x="378.50" y="219.00"/><use href="#mj" x="380.00" y="225.50"/><use href="#mj" x="381.50" y="232.00"/><use href="#mj" x="382.80" y="238.50"/><use href="#mj" x="384.50" y="245.00"/><use href="#mj" x="386.50" y="251.00"/><use href="#mj" x="388.50" y="256.50"/><use href="#mj" x="391.00" y="261.00"/><use href="#mj" x="394.00" y="264.50"/><use href="#mj" x="398.00" y="267.50"/><use href="#mj" x="403.00" y="269.50"/><use href="#mj" x="408.00" y="270.80"/><use href="#mj" x="413.00" y="271.50"/><use href="#mj" x="418.00" y="272.00"/><use href="#mj" x="423.00" y="272.20"/><use href="#mj" x="428.00" y="272.30"/><use href="#mj" x="433.00" y="272.30"/><use href="#mj" x="441.00" y="272.30"/><use href="#mj" x="451.80" y="272.30"/><use href="#mj" x="465.00" y="272.30"/><use href="#mj" x="469.50" y="272.30"/>
</g>
<text x="122" y="50.90" font-size="15.3">Device:GaN HEMT</text>
<text x="122" y="69.20" font-size="15.3">LET=0.2pC/μm</text>
<text x="122" y="87.50" font-size="15.3">θ=0°</text>
<text x="122" y="105.80" font-size="15.3">Vd=10V</text>
<text x="122" y="124.10" font-size="15.3">Vg=-4V</text>
<path d="M405.3,40.00H439.3" stroke="#000000" stroke-width="1.1" stroke-opacity="0.55"/>
<use href="#ma" x="422.3" y="40.40"/>
<text x="443" y="45.00" font-size="14.5">a</text>
<path d="M405.3,58.80H439.3" stroke="#ff0000" stroke-width="1.1" stroke-opacity="0.55"/>
<use href="#mb" x="422.3" y="59.20"/>
<text x="443" y="63.80" font-size="14.5">b</text>
<path d="M405.3,77.60H439.3" stroke="#0000ff" stroke-width="1.1" stroke-opacity="0.55"/>
<use href="#mc" x="422.3" y="78.00"/>
<text x="443" y="82.60" font-size="14.5">c</text>
<path d="M405.3,96.40H439.3" stroke="#ff00ff" stroke-width="1.1" stroke-opacity="0.55"/>
<use href="#md" x="422.3" y="96.80"/>
<text x="443" y="101.40" font-size="14.5">d</text>
<path d="M405.3,115.20H439.3" stroke="#008000" stroke-width="1.1" stroke-opacity="0.55"/>
<use href="#me" x="422.3" y="115.60"/>
<text x="443" y="120.20" font-size="14.5">e</text>
<path d="M405.3,134.00H439.3" stroke="#000080" stroke-width="1.1" stroke-opacity="0.55"/>
<use href="#mf" x="422.3" y="134.40"/>
<text x="443" y="139.00" font-size="14.5">f</text>
<path d="M405.3,152.80H439.3" stroke="#8000ff" stroke-width="1.1" stroke-opacity="0.55"/>
<use href="#mg" x="422.3" y="153.20"/>
<text x="443" y="157.80" font-size="14.5">g</text>
<path d="M405.3,171.60H439.3" stroke="#800080" stroke-width="1.1" stroke-opacity="0.55"/>
<use href="#mh" x="422.3" y="172.00"/>
<text x="443" y="176.60" font-size="14.5">h</text>
<path d="M405.3,190.40H439.3" stroke="#900000" stroke-width="1.1" stroke-opacity="0.55"/>
<use href="#mi" x="422.3" y="190.80"/>
<text x="443" y="195.40" font-size="14.5">i</text>
<path d="M405.3,209.20H439.3" stroke="#808000" stroke-width="1.1" stroke-opacity="0.55"/>
<use href="#mj" x="422.3" y="209.60"/>
<text x="443" y="214.20" font-size="14.5">j</text>
<text x="0" y="0" font-size="14.9" text-anchor="middle" transform="translate(65.2,158.4) rotate(-90)">Idrain(A)</text>
<text x="288.3" y="352.5" font-size="14.8" text-anchor="middle">Transient time(s)</text>
<text x="273" y="375.4" font-size="16" text-anchor="middle">(<tspan font-weight="bold">a</tspan>)</text>
<rect x="5" y="380" width="536" height="187" fill="#ffff00"/>
<rect x="45.2" y="380" width="134" height="187" fill="#6fd148"/>
<rect x="286.2" y="380" width="214.7" height="187" fill="#6fd148"/>
<path d="M45.4,380V567M179.4,380V567M286.4,380V567M500.8,380V567" stroke="#000" stroke-width="1.2"/>
<rect x="5" y="380" width="536" height="187" fill="none" stroke="#000" stroke-width="1.5"/>
<circle cx="26.3" cy="460.3" r="4.85" fill="#fff" stroke="#000" stroke-width="1.4"/>
<circle cx="85.2" cy="460.3" r="4.85" fill="#fff" stroke="#000" stroke-width="1.4"/>
<circle cx="133.7" cy="460.3" r="4.85" fill="#fff" stroke="#000" stroke-width="1.4"/>
<circle cx="179.4" cy="460.3" r="4.85" fill="#fff" stroke="#000" stroke-width="1.4"/>
<circle cx="232.5" cy="460.3" r="4.85" fill="#fff" stroke="#000" stroke-width="1.4"/>
<circle cx="286.2" cy="460.3" r="4.85" fill="#fff" stroke="#000" stroke-width="1.4"/>
<circle cx="338.6" cy="460.3" r="4.85" fill="#fff" stroke="#000" stroke-width="1.4"/>
<circle cx="391.4" cy="460.3" r="4.85" fill="#fff" stroke="#000" stroke-width="1.4"/>
<circle cx="443.8" cy="460.3" r="4.85" fill="#fff" stroke="#000" stroke-width="1.4"/>
<circle cx="519.5" cy="460.3" r="4.85" fill="#fff" stroke="#000" stroke-width="1.4"/>
<text x="0" y="0" font-size="20.66" style="font-family:'Noto Serif CJK SC',serif;font-weight:300" transform="matrix(0.9789,0,0,1,18.89,413.19)">S</text>
<text x="0" y="0" font-size="20.13" style="font-family:'Noto Serif CJK SC',serif;font-weight:300" transform="matrix(0.7602,0,0,1,227.58,412.90)">G</text>
<text x="0" y="0" font-size="21.67" style="font-family:'Noto Serif CJK SC',serif;font-weight:300" transform="matrix(0.7356,0,0,1,513.24,413.60)">D</text>
<text x="0" y="0" font-size="20.38" style="font-family:'Noto Serif CJK SC',serif;font-weight:300" transform="matrix(1.0000,0,0,1,22.69,511.70)">a</text>
<text x="0" y="0" font-size="19.75" style="font-family:'Noto Serif CJK SC',serif;font-weight:300" transform="matrix(0.9170,0,0,1,84.48,511.70)">b</text>
<text x="0" y="0" font-size="20.38" style="font-family:'Noto Serif CJK SC',serif;font-weight:300" transform="matrix(1.0000,0,0,1,130.35,511.70)">c</text>
<text x="0" y="0" font-size="19.75" style="font-family:'Noto Serif CJK SC',serif;font-weight:300" transform="matrix(0.9094,0,0,1,175.70,511.70)">d</text>
<text x="0" y="0" font-size="20.38" style="font-family:'Noto Serif CJK SC',serif;font-weight:300" transform="matrix(1.0000,0,0,1,227.15,511.70)">e</text>
<text x="0" y="0" font-size="19.75" style="font-family:'Noto Serif CJK SC',serif;font-weight:300" transform="matrix(1.0000,0,0,1,281.26,511.90)">f</text>
<text x="0" y="0" font-size="16.67" style="font-family:'Noto Serif CJK SC',serif;font-weight:300" transform="matrix(1.0000,0,0,1,334.75,505.47)">g</text>
<text x="0" y="0" font-size="20.00" style="font-family:'Noto Serif CJK SC',serif;font-weight:300" transform="matrix(0.9052,0,0,1,387.28,511.90)">h</text>
<text x="0" y="0" font-size="20.79" style="font-family:'Noto Serif CJK SC',serif;font-weight:300" transform="matrix(1.0000,0,0,1,443.47,511.90)">i</text>
<text x="0" y="0" font-size="18.06" style="font-family:'Noto Serif CJK SC',serif;font-weight:300" transform="matrix(1.0000,0,0,1,517.78,509.82)">j</text>
<text x="272.6" y="586.1" font-size="16.4" text-anchor="middle">(<tspan font-weight="bold">b</tspan>)</text>
</svg></body></html>
